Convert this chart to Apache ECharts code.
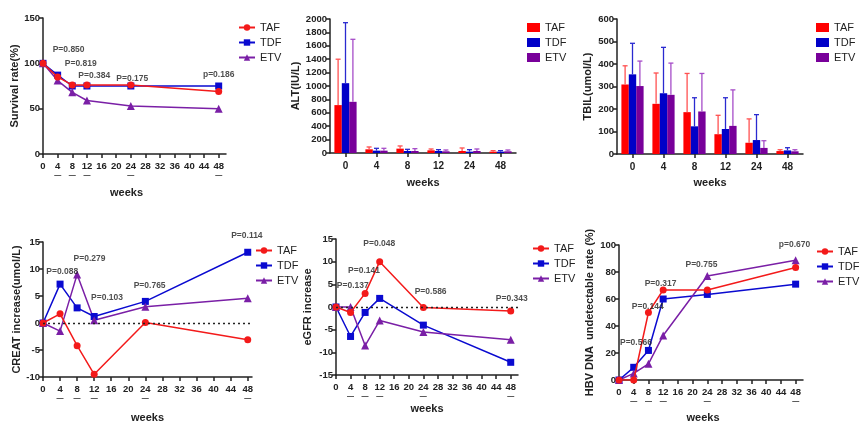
<!DOCTYPE html>
<html>
<head>
<meta charset="utf-8">
<script src="https://cdn.jsdelivr.net/npm/echarts@6/dist/echarts.min.js"></script>
<style>
  html, body { margin: 0; padding: 0; background: #fff; }
  #chart { width: 863px; height: 434px; }
</style>
</head>
<body>
<div id="chart"></div>
<script>
// 数据
var weeks = [0, 4, 8, 12, 24, 48];
var weekCats = ['0', '4', '8', '12', '24', '48'];
var weekTicks = [0, 4, 8, 12, 16, 20, 24, 28, 32, 36, 40, 44, 48];
var underlined = [4, 8, 12, 24, 48];

// survival rate (%)
var survTAF = [100, 85, 76, 76, 76, 69];
var survTDF = [100, 87, 75, 75, 75, 75];
var survETV = [100, 81, 68, 59, 53, 50];
var survP = [[7, 115, 'P=0.850'], [10.3, 100, 'P=0.819'], [14, 86, 'P=0.384'], [24.4, 83, 'P=0.175'], [48, 88, 'p=0.186']];

// ALT mean / upper error
var altTAF = [715, 55, 65, 40, 30, 20];
var altTDF = [1042, 35, 30, 30, 20, 20];
var altETV = [764, 35, 30, 25, 30, 25];
var altTAFsd = [685, 35, 40, 20, 45, 15];
var altTDFsd = [903, 35, 25, 20, 30, 15];
var altETVsd = [933, 35, 35, 20, 30, 20];

// TBIL mean / upper error
var tbilTAF = [309, 223, 186, 88, 50, 13];
var tbilTDF = [354, 270, 123, 111, 62, 16];
var tbilETV = [302, 263, 189, 125, 27, 12];
var tbilTAFsd = [83, 137, 172, 84, 106, 6];
var tbilTDFsd = [138, 204, 127, 139, 113, 12];
var tbilETVsd = [111, 141, 169, 160, 32, 7];

// CREAT increase
var creTAF = [0, 1.7, -4.2, -9.5, 0.1, -3.1];
var creTDF = [0, 7.2, 2.8, 1.2, 4.0, 13.1];
var creETV = [0, -1.5, 9.0, 0.5, 3.0, 4.6];
var creP = [[4.5, 9.6, 'P=0.088'], [10.9, 11.9, 'P=0.279'], [15, 4.7, 'P=0.103'], [25, 7, 'P=0.765'], [47.8, 16.2, 'P=0.114']];

// eGFR increase
var egfrTAF = [0, -1.2, 3.0, 10.0, -0.1, -0.9];
var egfrTDF = [0, -6.5, -1.2, 1.9, -4.0, -12.2];
var egfrETV = [0, 0, -8.5, -3.0, -5.5, -7.2];
var egfrP = [[4.6, 4.8, 'P=0.137'], [7.7, 8.0, 'P=0.141'], [11.9, 14.0, 'P=0.048'], [26, 3.4, 'P=0.586'], [48.3, 1.8, 'P=0.343']];

// HBV DNA undetectable rate (%)
var hbvTAF = [0, 0, 50, 66.7, 66.7, 83.3];
var hbvTDF = [0, 9.4, 21.9, 60, 63.4, 71];
var hbvETV = [0, 4.9, 12, 33, 77, 88.7];
var hbvP = [[4.6, 27.3, 'P=0.566'], [7.8, 54.4, 'P=0.144'], [11.3, 71, 'P=0.317'], [22.4, 85.5, 'P=0.755'], [47.7, 100.5, 'p=0.670']];

var FONT = 'Liberation Sans';
var INK = '#222';
var lineColors = { TAF: '#f31a1a', TDF: '#0a0ad0', ETV: '#7a1fa6' };
var barColors = { TAF: '#ff0000', TDF: '#0000c8', ETV: '#78009a' };
var errColors = { TAF: '#ff5050', TDF: '#2a2ad0', ETV: '#a64cc8' };
var symbols = { TAF: 'circle', TDF: 'rect', ETV: 'triangle' };

function pair(xs, ys) {
  return xs.map(function (x, i) { return [x, ys[i]]; });
}

// 折线图x轴
function weekAxis(gi, max, gap, pad) {
  return {
    gridIndex: gi, type: 'value', min: 0, max: max,
    name: 'weeks', nameLocation: 'middle', nameGap: gap,
    nameTextStyle: { fontFamily: FONT, fontWeight: 'bold', fontSize: 11, color: INK, padding: pad || 0 },
    axisLine: { show: true, onZero: false, lineStyle: { color: INK, width: 1.5 } },
    axisTick: { show: true, length: 4, customValues: weekTicks, lineStyle: { color: INK, width: 1.5 } },
    splitLine: { show: false },
    axisLabel: {
      customValues: weekTicks, margin: 6, color: INK,
      fontFamily: FONT, fontWeight: 'bold', fontSize: 9.5,
      formatter: function (v) {
        return underlined.indexOf(v) >= 0 ? '{v|' + v + '}\n{u|—}' : '{v|' + v + '}\n{u| }';
      },
      rich: {
        v: { fontFamily: FONT, fontWeight: 'bold', fontSize: 9.5, color: INK, lineHeight: 12 },
        u: { fontFamily: FONT, fontWeight: 'bold', fontSize: 7, color: INK, lineHeight: 7 }
      }
    }
  };
}

function catAxis(gi, gap) {
  return {
    gridIndex: gi, type: 'category', data: weekCats,
    name: 'weeks', nameLocation: 'middle', nameGap: gap,
    nameTextStyle: { fontFamily: FONT, fontWeight: 'bold', fontSize: 11, color: INK },
    axisLine: { show: true, lineStyle: { color: INK, width: 1.5 } },
    axisTick: { show: true, alignWithLabel: true, length: 4, lineStyle: { color: INK, width: 1.5 } },
    axisLabel: { color: INK, fontFamily: FONT, fontWeight: 'bold', fontSize: 10, margin: 8 }
  };
}

function valAxis(gi, name, min, max, interval, gap) {
  return {
    gridIndex: gi, type: 'value', min: min, max: max, interval: interval,
    name: name, nameLocation: 'middle', nameGap: gap, nameRotate: 90,
    nameTextStyle: { fontFamily: FONT, fontWeight: 'bold', fontSize: 11, color: INK },
    axisLine: { show: true, lineStyle: { color: INK, width: 1.5 } },
    axisTick: { show: true, length: 4, lineStyle: { color: INK, width: 1.5 } },
    splitLine: { show: false },
    axisLabel: {
      color: INK, fontFamily: FONT, fontWeight: 'bold', fontSize: 9.5, margin: 3,
      formatter: function (v) { return String(v); }
    }
  };
}

function lineSeries(idx, key, vals, extra) {
  var s = {
    name: key + '_' + idx, type: 'line', xAxisIndex: idx, yAxisIndex: idx,
    data: pair(weeks, vals), symbol: symbols[key], symbolSize: key === 'ETV' ? 8 : 7,
    lineStyle: { color: lineColors[key], width: 1.5 },
    itemStyle: { color: lineColors[key] },
    z: key === 'TAF' ? 4 : 3
  };
  return Object.assign(s, extra || {});
}

function pSeries(idx, list) {
  return {
    type: 'scatter', xAxisIndex: idx, yAxisIndex: idx, data: list,
    symbolSize: 1, itemStyle: { color: 'rgba(0,0,0,0)' }, clip: false, silent: true, z: 10,
    label: {
      show: true, position: 'inside', formatter: function (p) { return p.data[2]; },
      fontFamily: FONT, fontWeight: 'bold', fontSize: 8.5, color: INK
    }
  };
}

function barSeries(idx, key, vals) {
  return {
    name: key + '_' + idx, type: 'bar', xAxisIndex: idx, yAxisIndex: idx,
    data: vals, barWidth: 7.4, barGap: '0%',
    itemStyle: { color: barColors[key] }
  };
}

// 误差线 (只画上半部分)
function errSeries(idx, key, vals, sd, offset) {
  return {
    type: 'custom', xAxisIndex: idx, yAxisIndex: idx, silent: true, z: 5,
    data: vals.map(function (v, i) { return [i, v, sd[i]]; }),
    renderItem: function (params, api) {
      var p0 = api.coord([api.value(0), api.value(1)]);
      var p1 = api.coord([api.value(0), api.value(1) + api.value(2)]);
      var cx = p0[0] + offset;
      var st = { stroke: errColors[key], lineWidth: 1.3 };
      return {
        type: 'group', children: [
          { type: 'line', shape: { x1: cx, y1: p0[1], x2: cx, y2: p1[1] }, style: st },
          { type: 'line', shape: { x1: cx - 2.5, y1: p1[1], x2: cx + 2.5, y2: p1[1] }, style: st }
        ]
      };
    }
  };
}

function legendFor(idx, left, top, isBar) {
  return {
    orient: 'vertical', left: left, top: top, itemGap: 4, padding: 0,
    itemWidth: isBar ? 13 : 16, itemHeight: isBar ? 9 : 8, itemTextGap: 6,
    icon: isBar ? 'rect' : undefined,
    data: ['TAF_' + idx, 'TDF_' + idx, 'ETV_' + idx],
    formatter: function (n) { return n.split('_')[0]; },
    textStyle: { fontFamily: FONT, fontSize: 11, color: INK },
    selectedMode: false
  };
}

var zeroLine = {
  silent: true, symbol: 'none', label: { show: false },
  lineStyle: { color: INK, type: [2, 3], width: 1.3 },
  data: [{ yAxis: 0 }]
};

var myChart = echarts.init(document.getElementById('chart'));
var option = {
  backgroundColor: '#fff',
  animation: false,
  grid: [
    { left: 43, top: 18, width: 183, height: 136 },
    { left: 330, top: 19, width: 186, height: 134 },
    { left: 617, top: 19, width: 186, height: 135 },
    { left: 43, top: 242, width: 209, height: 135 },
    { left: 336, top: 239, width: 182, height: 136 },
    { left: 619, top: 245, width: 184, height: 135 }
  ],
  xAxis: [
    weekAxis(0, 50, 33, [0, 16, 0, 0]),
    catAxis(1, 24),
    catAxis(2, 23),
    weekAxis(3, 49, 35),
    weekAxis(4, 50, 28),
    weekAxis(5, 50, 32, [0, 16, 0, 0])
  ],
  yAxis: [
    valAxis(0, 'Survival rate(%)', 0, 150, 50, 22),
    valAxis(1, 'ALT(IU/L)', 0, 2000, 200, 27),
    valAxis(2, 'TBIL(umol/L)', 0, 600, 100, 24),
    valAxis(3, 'CREAT increase(umol/L)', -10, 15, 5, 21),
    valAxis(4, 'eGFR increase', -15, 15, 5, 23),
    valAxis(5, 'HBV DNA  undetectable rate (%)', 0, 100, 20, 24)
  ],
  legend: [
    legendFor(0, 238, 22, false),
    legendFor(1, 527, 22, true),
    legendFor(2, 816, 22, true),
    legendFor(3, 255, 245, false),
    legendFor(4, 532, 243, false),
    legendFor(5, 816, 246, false)
  ],
  series: [
    lineSeries(0, 'TAF', survTAF),
    lineSeries(0, 'TDF', survTDF),
    lineSeries(0, 'ETV', survETV),
    pSeries(0, survP),

    barSeries(1, 'TAF', altTAF),
    barSeries(1, 'TDF', altTDF),
    barSeries(1, 'ETV', altETV),
    errSeries(1, 'TAF', altTAF, altTAFsd, -7.4),
    errSeries(1, 'TDF', altTDF, altTDFsd, 0),
    errSeries(1, 'ETV', altETV, altETVsd, 7.4),

    barSeries(2, 'TAF', tbilTAF),
    barSeries(2, 'TDF', tbilTDF),
    barSeries(2, 'ETV', tbilETV),
    errSeries(2, 'TAF', tbilTAF, tbilTAFsd, -7.4),
    errSeries(2, 'TDF', tbilTDF, tbilTDFsd, 0),
    errSeries(2, 'ETV', tbilETV, tbilETVsd, 7.4),

    lineSeries(3, 'TAF', creTAF, { markLine: zeroLine }),
    lineSeries(3, 'TDF', creTDF),
    lineSeries(3, 'ETV', creETV),
    pSeries(3, creP),

    lineSeries(4, 'TAF', egfrTAF, { markLine: zeroLine }),
    lineSeries(4, 'TDF', egfrTDF),
    lineSeries(4, 'ETV', egfrETV),
    pSeries(4, egfrP),

    lineSeries(5, 'TAF', hbvTAF),
    lineSeries(5, 'TDF', hbvTDF),
    lineSeries(5, 'ETV', hbvETV),
    pSeries(5, hbvP)
  ]
};
myChart.setOption(option);
</script>
</body>
</html>
